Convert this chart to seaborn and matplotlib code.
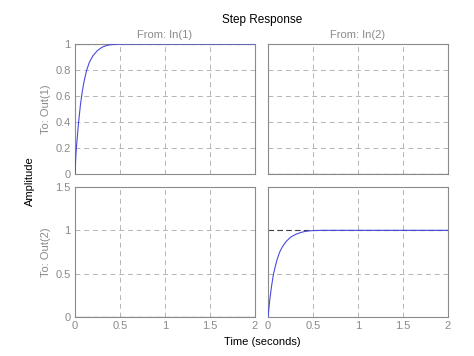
import numpy as np
import pandas as pd
import matplotlib
matplotlib.use("Agg")
import matplotlib.pyplot as plt
import seaborn as sns

# step response (t in seconds)
t_11 = [0, 0.01, 0.02, 0.04, 0.06, 0.08, 0.1, 0.13, 0.16, 0.2, 0.25, 0.3, 0.35, 0.4, 0.45, 0.5, 2.0]
y_11 = [0, 0.15, 0.24, 0.40, 0.53, 0.63, 0.71, 0.80, 0.86, 0.91, 0.95, 0.975, 0.988, 0.995, 0.998, 1.0, 1.0]
t_22 = [0, 0.02, 0.04, 0.06, 0.08, 0.1, 0.13, 0.16, 0.2, 0.25, 0.3, 0.35, 0.4, 0.45, 0.5, 0.6, 2.0]
y_22 = [0, 0.2, 0.36, 0.49, 0.58, 0.66, 0.75, 0.81, 0.87, 0.92, 0.95, 0.97, 0.985, 0.993, 0.997, 1.0, 1.0]
t_off = [0, 2.0]
y_off = [0, 0]

inputs = ["From: In(1)", "From: In(2)"]
outputs = ["To: Out(1)", "To: Out(2)"]
x_ticks = [0, 0.5, 1, 1.5, 2]
x_ticklabels = ["0", "0.5", "1", "1.5", "2"]
y_ticks_top = [0, 0.2, 0.4, 0.6, 0.8, 1]
y_ticklabels_top = ["0", "0.2", "0.4", "0.6", "0.8", "1"]
y_ticks_bot = [0, 0.5, 1, 1.5]
y_ticklabels_bot = ["0", "0.5", "1", "1.5"]
final_values = [[1, 0], [0, 1]]

sns.set_style("white")
plt.rcParams['font.family'] = ['Liberation Sans', 'DejaVu Sans']

gray = '#8a8a8a'
grid_col = '#b4b4b4'
line_col = '#4a4ae0'

fig = plt.figure(figsize=(4.74, 3.56), dpi=100)
W, H = 474, 356

def px_axes(x0, y0, x1, y1):
    return fig.add_axes([x0 / W, 1 - y1 / H, (x1 - x0) / W, (y1 - y0) / H])

lefts = [(75, 255), (268, 448)]
tops = [(44, 174), (187, 317)]

curves = {(0, 0): (t_11, y_11), (0, 1): (t_off, y_off),
          (1, 0): (t_off, y_off), (1, 1): (t_22, y_22)}

for r in range(2):
    for c in range(2):
        ax = px_axes(lefts[c][0], tops[r][0], lefts[c][1], tops[r][1])
        t, y = curves[(r, c)]
        # steady-state reference
        ax.axhline(final_values[r][c], color='#404040', lw=0.8, ls=(0, (5, 3)), zorder=2)
        df = pd.DataFrame({"t": t, "y": y})
        sns.lineplot(data=df, x="t", y="y", ax=ax, color=line_col, lw=0.8, zorder=3)
        ax.set_xlim(0, 2)
        if r == 0:
            ax.set_ylim(0, 1)
            ax.set_yticks(y_ticks_top)
            ax.set_yticklabels(y_ticklabels_top if c == 0 else [])
        else:
            ax.set_ylim(0, 1.5)
            ax.set_yticks(y_ticks_bot)
            ax.set_yticklabels(y_ticklabels_bot if c == 0 else [])
        ax.set_xticks(x_ticks)
        ax.set_xticklabels(x_ticklabels if r == 1 else [])
        ax.set_xlabel("")
        ax.set_ylabel("")
        ax.grid(True, color=grid_col, lw=0.7, ls=(0, (5, 4)))
        ax.tick_params(direction='in', length=3, width=0.6, colors=gray,
                       labelsize=8, labelcolor=gray, pad=3)
        for s in ax.spines.values():
            s.set_color(gray)
            s.set_linewidth(0.8)
        if r == 0:
            ax.set_title(inputs[c], fontsize=8, color=gray, pad=4)
        if c == 0:
            fig.text(46 / W, 1 - (tops[r][0] + tops[r][1]) / 2 / H, outputs[r],
                     rotation=90, ha='center', va='center', fontsize=8, color=gray)

fig.text(262 / W, 1 - 20 / H, "Step Response", ha='center', va='center',
         fontsize=8.5, color='black')
fig.text(30 / W, 1 - 181 / H, "Amplitude", rotation=90, ha='center', va='center',
         fontsize=8, color='black')
fig.text(262 / W, 1 - 342 / H, "Time (seconds)", ha='center', va='center',
         fontsize=8, color='black')

fig.savefig("out.png", dpi=100)
